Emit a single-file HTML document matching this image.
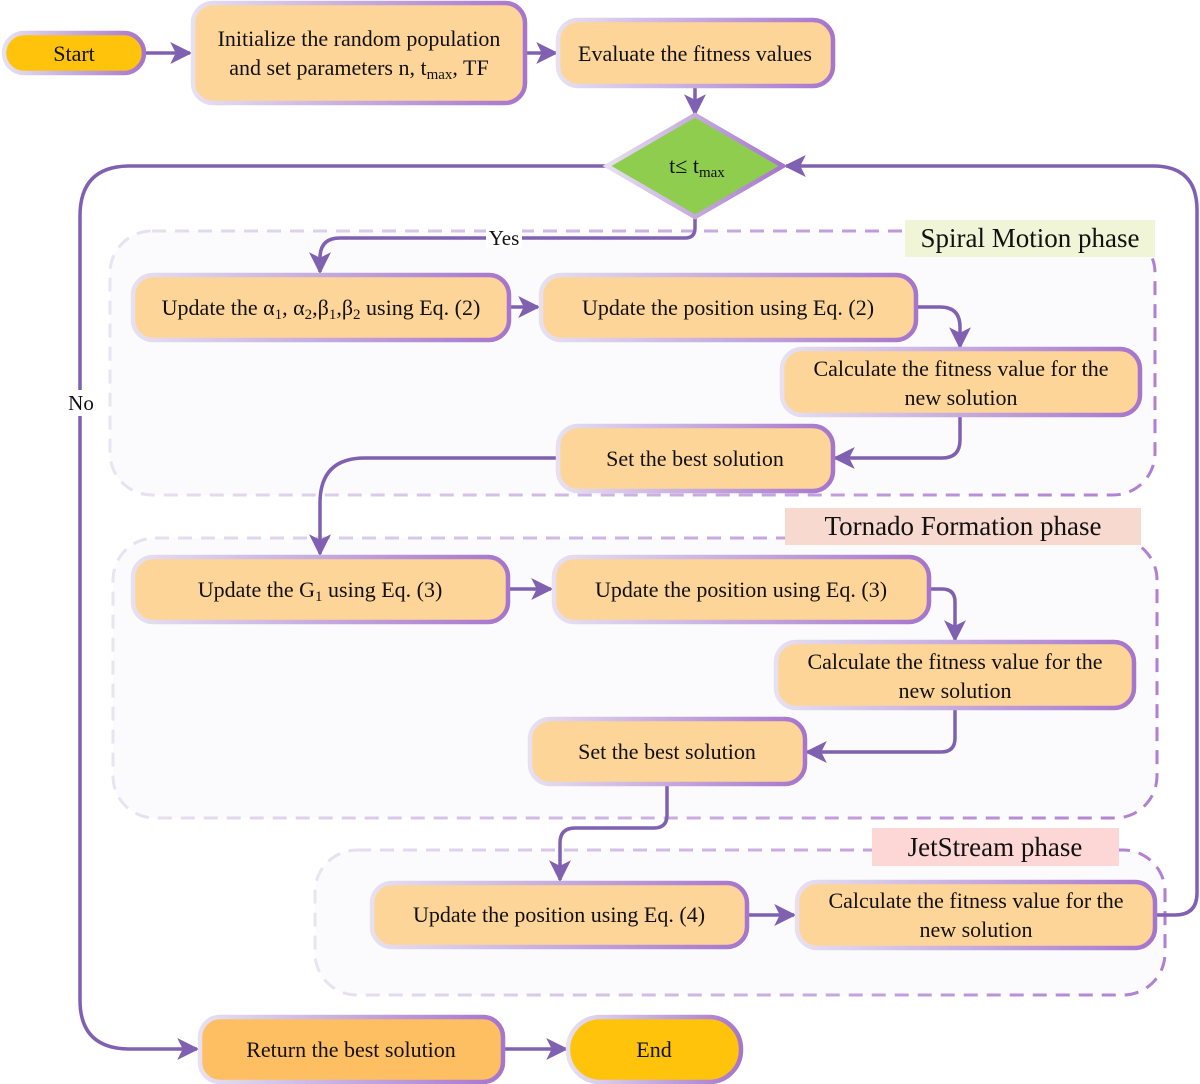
<!DOCTYPE html>
<html><head><meta charset="utf-8"><style>
html,body{margin:0;padding:0;background:#fff;width:1200px;height:1084px;overflow:hidden}
svg{display:block}
svg text{font-family:"Liberation Serif","DejaVu Serif",serif;fill:#111}
</style></head><body>
<svg width="1200" height="1084" viewBox="0 0 1200 1084" xmlns="http://www.w3.org/2000/svg" font-family="'Liberation Serif', 'DejaVu Serif', serif">
<defs>
<linearGradient id="g" x1="0" y1="0" x2="1" y2="0"><stop offset="0" stop-color="#e6e0f0"/><stop offset="1" stop-color="#a675cc"/></linearGradient>
<linearGradient id="gd" x1="0" y1="0" x2="1" y2="0"><stop offset="0" stop-color="#e8e4f0"/><stop offset="1" stop-color="#b07fd2"/></linearGradient>
<marker id="A" viewBox="0 0 10 10" refX="9" refY="5" markerWidth="22" markerHeight="22" orient="auto" markerUnits="userSpaceOnUse"><path d="M0,0 L10,5 L0,10 L2.5,5 z" fill="#8060b0"/></marker>
</defs>

<rect x="110" y="231" width="1045" height="264" rx="42" fill="#fbfbfd" stroke="url(#gd)" stroke-width="3" stroke-dasharray="14 9"/>
<rect x="113" y="538" width="1044" height="280" rx="42" fill="#fbfbfd" stroke="url(#gd)" stroke-width="3" stroke-dasharray="14 9"/>
<rect x="315" y="850" width="850" height="145" rx="42" fill="#fbfbfd" stroke="url(#gd)" stroke-width="3" stroke-dasharray="14 9"/>
<rect x="905" y="220" width="250" height="37" fill="#eff5d6"/>
<text x="1030" y="247" font-size="27" text-anchor="middle" font-family="'Liberation Serif', 'DejaVu Serif', serif">Spiral Motion phase</text>
<rect x="785" y="508" width="356" height="37" fill="#f8d9d0"/>
<text x="963" y="535" font-size="27" text-anchor="middle" font-family="'Liberation Serif', 'DejaVu Serif', serif">Tornado Formation phase</text>
<rect x="872" y="828" width="247" height="38" fill="#fdd6d6"/>
<text x="995" y="856" font-size="27" text-anchor="middle" font-family="'Liberation Serif', 'DejaVu Serif', serif">JetStream phase</text>

<g fill="none" stroke="#8060b0" stroke-width="3.5">
<path d="M144 53 H190" marker-end="url(#A)"/>
<path d="M525 53 H556" marker-end="url(#A)"/>
<path d="M695 86 V114" marker-end="url(#A)"/>
<path d="M695 217 V228 Q695 238 685 238 H340 Q320 238 320 258 V272" marker-end="url(#A)"/>
<path d="M607 166 H130 Q80 166 80 216 V1000 Q80 1049 130 1049 H197" marker-end="url(#A)"/>
<path d="M1155 915 H1175 Q1197 915 1197 893 V210 Q1197 166 1153 166 H786" marker-end="url(#A)"/>
<path d="M509 307 H538" marker-end="url(#A)"/>
<path d="M916 307 H940 Q960 307 960 327 V347" marker-end="url(#A)"/>
<path d="M960 415 V440 Q960 458 942 458 H835" marker-end="url(#A)"/>
<path d="M558 458 H365 Q320 458 320 503 V554" marker-end="url(#A)"/>
<path d="M508 589 H551" marker-end="url(#A)"/>
<path d="M929 589 H942 Q955 589 955 602 V640" marker-end="url(#A)"/>
<path d="M955 708 V738 Q955 752 941 752 H807" marker-end="url(#A)"/>
<path d="M667 784 V815 Q667 828 654 828 H575 Q560 828 560 843 V880" marker-end="url(#A)"/>
<path d="M747 915 H794" marker-end="url(#A)"/>
<path d="M503 1049 H566" marker-end="url(#A)"/>
</g>
<rect x="486" y="228" width="36" height="20" fill="#fff"/>
<text x="504" y="245" font-size="21" text-anchor="middle" font-family="'Liberation Serif', 'DejaVu Serif', serif">Yes</text>
<rect x="64" y="390" width="34" height="26" fill="#fff"/>
<text x="81" y="410" font-size="21" text-anchor="middle" font-family="'Liberation Serif', 'DejaVu Serif', serif">No</text>

<g stroke="url(#g)" stroke-width="4.5">
<rect x="4" y="33" width="140" height="40" rx="20" fill="#fec30a"/>
<rect x="193" y="3" width="332" height="100" rx="20" fill="#fed598"/>
<rect x="558" y="20" width="275" height="66" rx="20" fill="#fed598"/>
<polygon points="695,115 783,166 695,217 607,166" fill="#8fcd4f"/>
<rect x="133" y="275" width="376" height="65" rx="20" fill="#fed598"/>
<rect x="541" y="275" width="375" height="65" rx="20" fill="#fed598"/>
<rect x="782" y="349" width="358" height="66" rx="20" fill="#fed598"/>
<rect x="558" y="426" width="275" height="65" rx="20" fill="#fed598"/>
<rect x="133" y="557" width="375" height="65" rx="20" fill="#fed598"/>
<rect x="554" y="557" width="375" height="65" rx="20" fill="#fed598"/>
<rect x="776" y="642" width="358" height="66" rx="20" fill="#fed598"/>
<rect x="530" y="719" width="275" height="65" rx="20" fill="#fed598"/>
<rect x="372" y="883" width="375" height="64" rx="20" fill="#fed598"/>
<rect x="797" y="882" width="358" height="66" rx="20" fill="#fed598"/>
<rect x="200" y="1017" width="303" height="65" rx="20" fill="#febf62"/>
<rect x="568" y="1017" width="173" height="65" rx="32" fill="#fec30a"/>
</g>

<g font-size="22" text-anchor="middle" font-family="'Liberation Serif', 'DejaVu Serif', serif">
<text x="74" y="61">Start</text>
<text x="359" y="46">Initialize the random population</text>
<text x="359" y="75">and set parameters n, t<tspan font-size="15" dy="4">max</tspan><tspan dy="-4">, TF</tspan></text>
<text x="695" y="61">Evaluate the fitness values</text>
<text x="697" y="173" font-size="22">t≤ t<tspan font-size="15" dy="4">max</tspan></text>
<text x="321" y="315">Update the α<tspan font-size="15" dy="4">1</tspan><tspan dy="-4">, α</tspan><tspan font-size="15" dy="4">2</tspan><tspan dy="-4">,β</tspan><tspan font-size="15" dy="4">1</tspan><tspan dy="-4">,β</tspan><tspan font-size="15" dy="4">2</tspan><tspan dy="-4">  using Eq. (2)</tspan></text>
<text x="728" y="315">Update the position using Eq. (2)</text>
<text x="961" y="376">Calculate the fitness value for the</text>
<text x="961" y="405">new solution</text>
<text x="695" y="466">Set the best solution</text>
<text x="320" y="597">Update the G<tspan font-size="15" dy="4">1</tspan><tspan dy="-4">  using Eq. (3)</tspan></text>
<text x="741" y="597">Update the position using Eq. (3)</text>
<text x="955" y="669">Calculate the fitness value for the</text>
<text x="955" y="698">new solution</text>
<text x="667" y="759">Set the best solution</text>
<text x="559" y="922">Update the position using Eq. (4)</text>
<text x="976" y="908">Calculate the fitness value for the</text>
<text x="976" y="937">new solution</text>
<text x="351" y="1057">Return the best solution</text>
<text x="654" y="1057">End</text>
</g>
</svg>
</body></html>
